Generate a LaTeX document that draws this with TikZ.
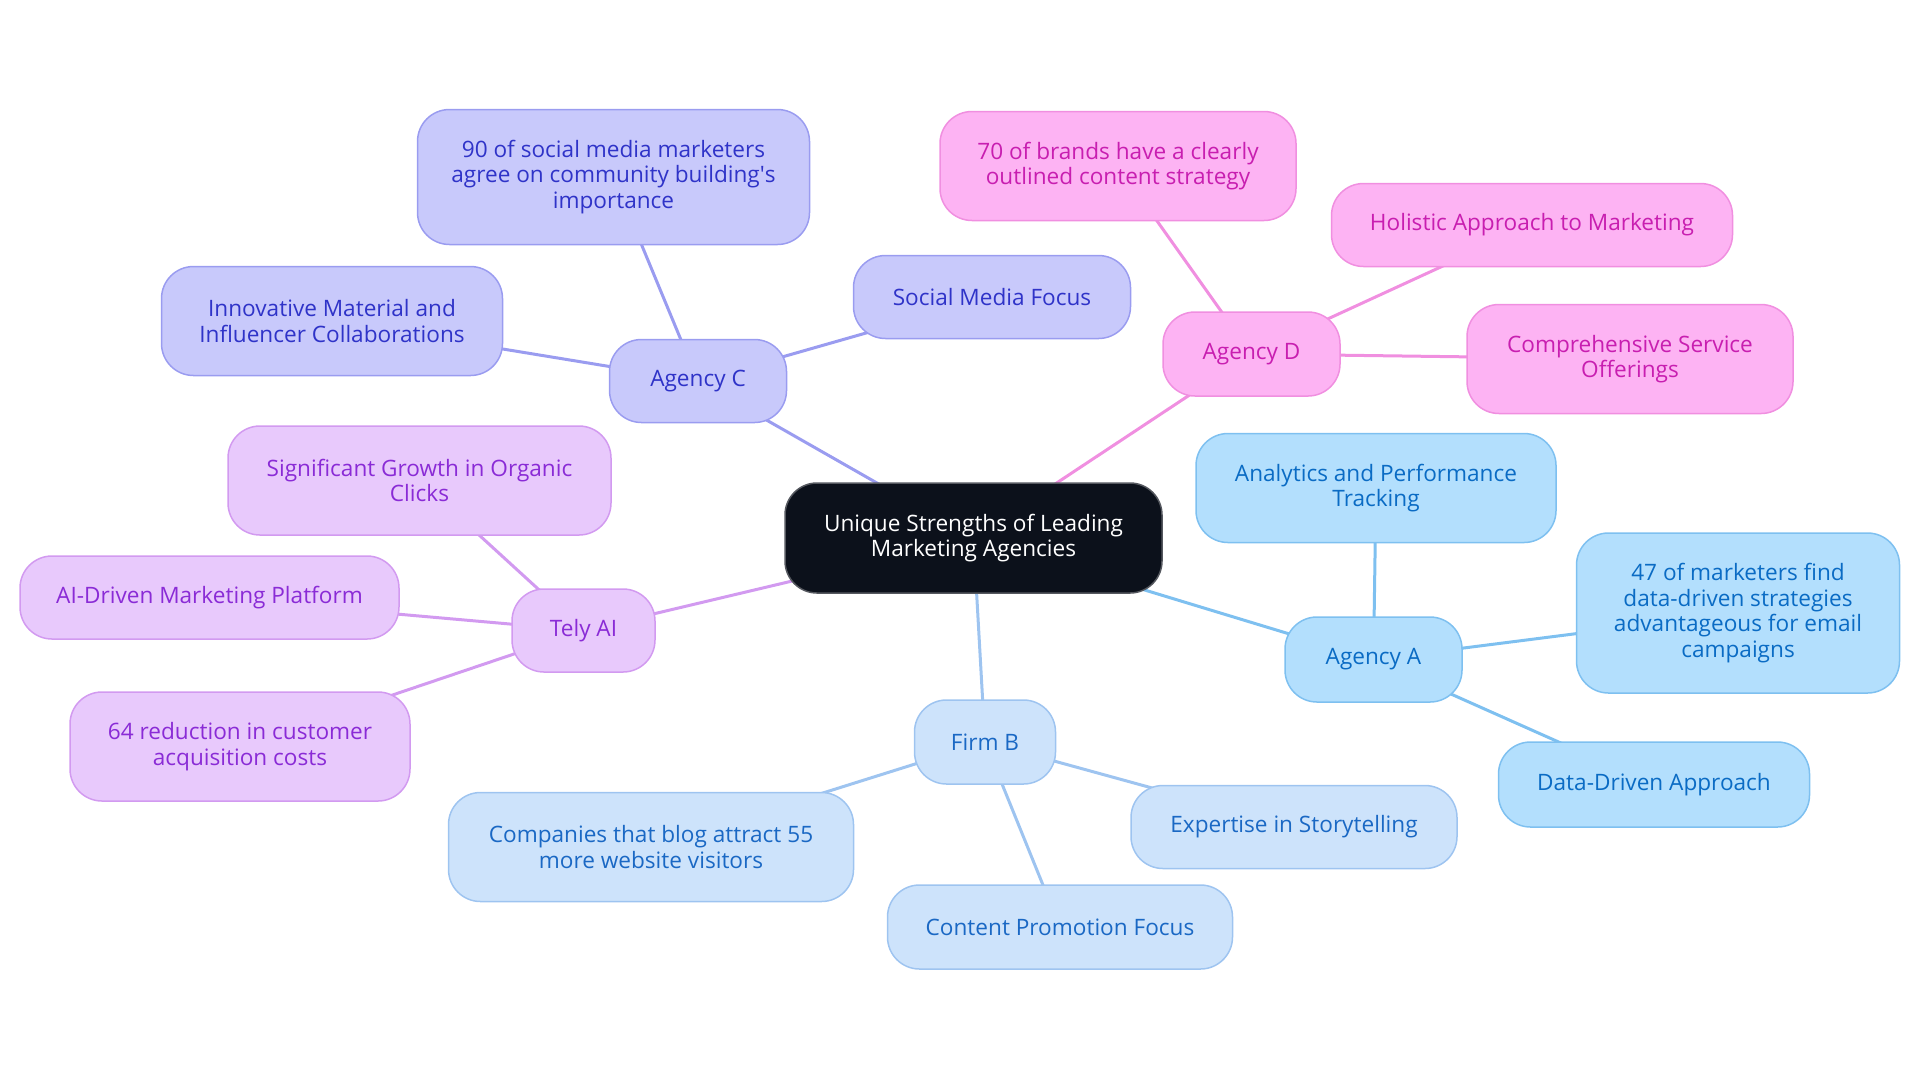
\documentclass[tikz,border=0pt]{standalone}
\usepackage{fontspec}
\setmainfont{Open Sans}
\usetikzlibrary{backgrounds}
\definecolor{cdark}{HTML}{0C111B}
\definecolor{cCfill}{HTML}{C8C9FB}\definecolor{cCdraw}{HTML}{9A9CF0}\definecolor{cCtext}{HTML}{2F33C8}
\definecolor{cDfill}{HTML}{FDB3F3}\definecolor{cDdraw}{HTML}{F08FE0}\definecolor{cDtext}{HTML}{C81EB0}
\definecolor{cAfill}{HTML}{B3DFFD}\definecolor{cAdraw}{HTML}{7EC0F0}\definecolor{cAtext}{HTML}{0A6BC4}
\definecolor{cBfill}{HTML}{CDE3FB}\definecolor{cBdraw}{HTML}{9EC4F0}\definecolor{cBtext}{HTML}{1A68C4}
\definecolor{cTfill}{HTML}{E8C9FC}\definecolor{cTdraw}{HTML}{D29AF0}\definecolor{cTtext}{HTML}{8A2BD6}
\tikzset{
  mm/.style={draw, rounded corners=16pt, line width=0.75pt, align=center, inner sep=0pt,
    font=\fontsize{11.3}{12.8}\selectfont},
  grpC/.style={mm, fill=cCfill, draw=cCdraw, text=cCtext},
  grpD/.style={mm, fill=cDfill, draw=cDdraw, text=cDtext},
  grpA/.style={mm, fill=cAfill, draw=cAdraw, text=cAtext},
  grpB/.style={mm, fill=cBfill, draw=cBdraw, text=cBtext},
  grpT/.style={mm, fill=cTfill, draw=cTdraw, text=cTtext},
  sz/.style 2 args={minimum width=#1pt, minimum height=#2pt},
  lk/.style={line width=1.5pt},
}
\begin{document}
\begin{tikzpicture}[x=0.5pt,y=-0.5pt]
\useasboundingbox (0,0) rectangle (1920,1083);
\node[mm, fill=cdark, draw=cdark!70, text=white, sz={188.5}{55}] (root) at (973.5,538) {Unique Strengths of Leading\\Marketing Agencies};
% Agency C
\node[grpC, sz={88.5}{41.5}] (agc) at (698,381) {Agency C};
\node[grpC, sz={196}{67.5}] (c1) at (613.5,177) {90 of social media marketers\\agree on community building\textquotesingle s\\importance};
\node[grpC, sz={138.5}{41.5}] (c2) at (992,297) {Social Media Focus};
\node[grpC, sz={170.5}{54.5}] (c3) at (332,321) {Innovative Material and\\Influencer Collaborations};
% Agency D
\node[grpD, sz={88.5}{42}] (agd) at (1251.5,354) {Agency D};
\node[grpD, sz={178}{54.5}] (d1) at (1118,166) {70 of brands have a clearly\\outlined content strategy};
\node[grpD, sz={200.5}{41.5}] (d2) at (1532,225) {Holistic Approach to Marketing};
\node[grpD, sz={163}{54.5}] (d3) at (1630,359) {Comprehensive Service\\Offerings};
% Agency A
\node[grpA, sz={88.5}{42.5}] (aga) at (1373.5,659.5) {Agency A};
\node[grpA, sz={180}{54.5}] (a1) at (1376,488) {Analytics and Performance\\Tracking};
\node[grpA, sz={161.5}{80}] (a2) at (1738,613) {47 of marketers find\\data-driven strategies\\advantageous for email\\campaigns};
\node[grpA, sz={155.5}{42.5}] (a3) at (1654,784.5) {Data-Driven Approach};
% Firm B
\node[grpB, sz={70.5}{42}] (fb) at (985,742) {Firm B};
\node[grpB, sz={163}{41.5}] (b1) at (1294,827) {Expertise in Storytelling};
\node[grpB, sz={172.5}{42}] (b2) at (1060,927) {Content Promotion Focus};
\node[grpB, sz={202.5}{54.5}] (b3) at (651,847) {Companies that blog attract 55\\more website visitors};
% Tely AI
\node[grpT, sz={71.5}{41.5}] (tely) at (583.5,630.5) {Tely AI};
\node[grpT, sz={191.5}{54.5}] (t1) at (419.5,480.5) {Significant Growth in Organic\\Clicks};
\node[grpT, sz={189.5}{41.5}] (t2) at (209.5,597.5) {AI-Driven Marketing Platform};
\node[grpT, sz={170}{54.5}] (t3) at (240,746.5) {64 reduction in customer\\acquisition costs};
\begin{scope}[on background layer]
\draw[lk, cCdraw] (root.center) -- (agc.center);
\draw[lk, cCdraw] (agc.center) -- (c1.center);
\draw[lk, cCdraw] (agc.center) -- (c2.center);
\draw[lk, cCdraw] (agc.center) -- (c3.center);
\draw[lk, cDdraw] (root.center) -- (agd.center);
\draw[lk, cDdraw] (agd.center) -- (d1.center);
\draw[lk, cDdraw] (agd.center) -- (d2.center);
\draw[lk, cDdraw] (agd.center) -- (d3.center);
\draw[lk, cAdraw] (root.center) -- (aga.center);
\draw[lk, cAdraw] (aga.center) -- (a1.center);
\draw[lk, cAdraw] (aga.center) -- (a2.center);
\draw[lk, cAdraw] (aga.center) -- (a3.center);
\draw[lk, cBdraw] (root.center) -- (fb.center);
\draw[lk, cBdraw] (fb.center) -- (b1.center);
\draw[lk, cBdraw] (fb.center) -- (b2.center);
\draw[lk, cBdraw] (fb.center) -- (b3.center);
\draw[lk, cTdraw] (root.center) -- (tely.center);
\draw[lk, cTdraw] (tely.center) -- (t1.center);
\draw[lk, cTdraw] (tely.center) -- (t2.center);
\draw[lk, cTdraw] (tely.center) -- (t3.center);
\end{scope}
\end{tikzpicture}
\end{document}
